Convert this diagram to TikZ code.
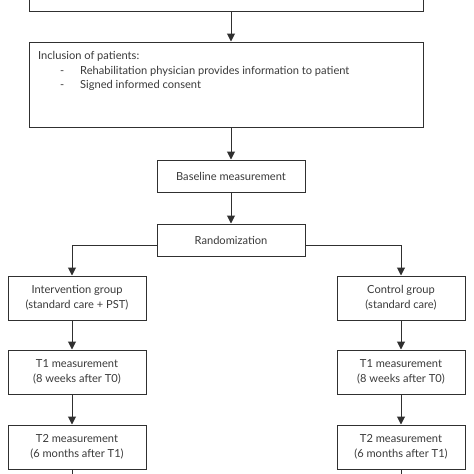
\documentclass[tikz,border=0pt]{standalone}
\usepackage{fontspec}
\setmainfont{Lato}
\usetikzlibrary{arrows.meta,calc}
\definecolor{txt}{HTML}{3A3A3A}
\definecolor{ln}{HTML}{303030}
\begin{document}
\begin{tikzpicture}[x=1pt,y=-1pt,
  box/.style={draw=ln,line width=1pt,inner sep=0pt,align=center,text=txt,font=\fontsize{11.1}{15}\selectfont},
  arr/.style={draw=ln,line width=1pt,-{Triangle[length=8pt,width=8pt]}},
  ln/.style={draw=ln,line width=1pt},
  lbl/.style={text=txt,font=\fontsize{11.1}{15}\selectfont,inner sep=0pt,anchor=base west}]
\useasboundingbox (0,0) rectangle (474,474);
\clip (0,0) rectangle (474,474);
\fill[white] (0,0) rectangle (474,474);
% boxes
\node[box,minimum width=394pt,minimum height=60pt] (top) at (226,-19) {};
\node[box,minimum width=394pt,minimum height=85pt] (incl) at (226,84.5) {};
\node[lbl] (t1) at (38,59) {Inclusion of patients:};
\node[lbl] (d1) at (60,74) {-};
\node[lbl] (t2) at (80,74) {Rehabilitation physician provides information to patient};
\node[lbl] (d2) at (60,88) {-};
\node[lbl] (t3) at (80,88) {Signed informed consent};
\node[box,minimum width=148pt,minimum height=32pt] (base) at (231,176) {Baseline measurement};
\node[box,minimum width=148pt,minimum height=32pt] (rand) at (231,240) {Randomization};
\node[box,minimum width=138pt,minimum height=44pt] (int) at (77,298) {Intervention group\\(standard care + PST)};
\node[box,minimum width=128pt,minimum height=44pt] (ctl) at (401,298) {Control group\\(standard care)};
\node[box,minimum width=138pt,minimum height=44pt] (i1) at (77,372) {T1 measurement\\(8 weeks after T0)};
\node[box,minimum width=128pt,minimum height=44pt] (c1) at (401,372) {T1 measurement\\(8 weeks after T0)};
\node[box,minimum width=138pt,minimum height=44pt] (i2) at (77,447) {T2 measurement\\(6 months after T1)};
\node[box,minimum width=128pt,minimum height=44pt] (c2) at (401,447) {T2 measurement\\(6 months after T1)};
\coordinate (iend) at (72,480);
\coordinate (cend) at (401,480);
% connectors
\draw[arr] (top.south -| base) -- (incl.north -| base);
\draw[arr] (incl.south -| base) -- (base.north);
\draw[arr] (base) -- (rand.north);
\draw[arr] ($(rand.west)+(0,5)$) -| ($(int.north)+(-5,0)$);
\draw[arr] ($(rand.east)+(0,5)$) -| (ctl.north);
\draw[arr] ($(int.south)+(-5,0)$) -- ($(i1.north)+(-5,0)$);
\draw[arr] (ctl.south) -- (c1.north);
\draw[arr] ($(i1.south)+(-5,0)$) -- ($(i2.north)+(-5,0)$);
\draw[arr] (c1.south) -- (c2.north);
\draw[ln] ($(i2.south)+(-5,0)$) -- (iend);
\draw[ln] (c2.south) -- (cend);
\end{tikzpicture}
\end{document}
